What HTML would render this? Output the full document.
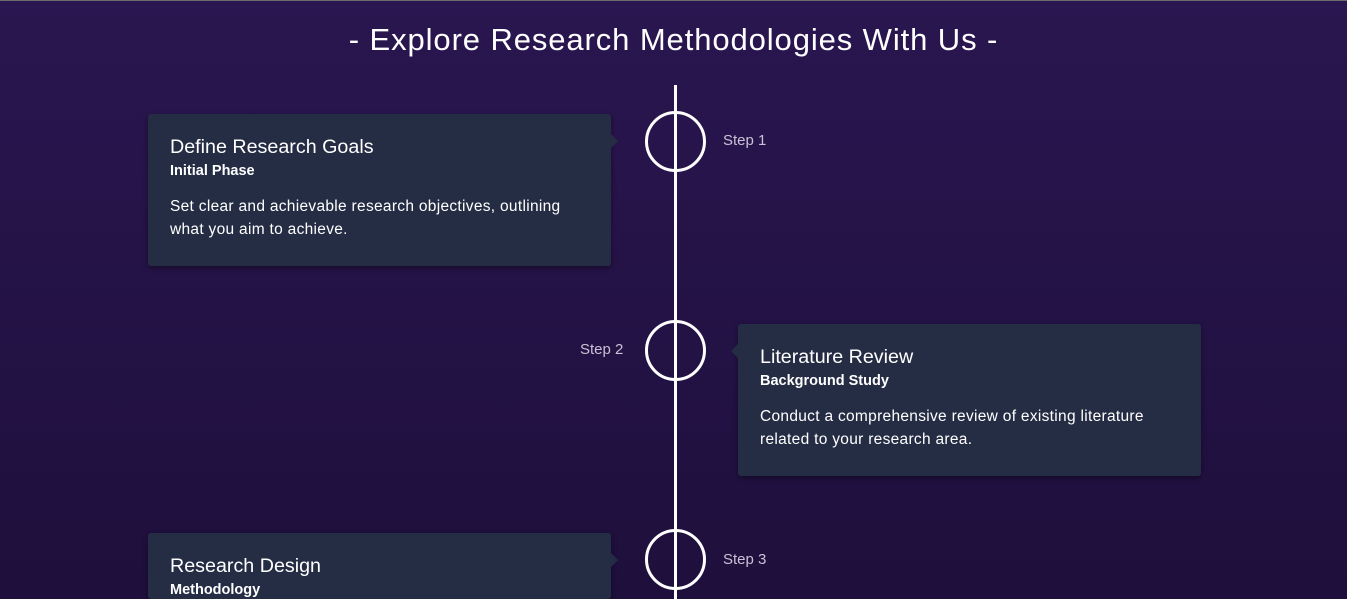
<!DOCTYPE html>
<html><head><meta charset="utf-8"><style>
*{margin:0;padding:0;box-sizing:border-box}
html,body{width:1347px;height:599px;overflow:hidden}
body{background:linear-gradient(#2a1650,#1e0f3c);font-family:"Liberation Sans",sans-serif;color:#fff;position:relative;border-top:1px solid #6b6b6b}
h1{position:absolute;top:21px;left:0;width:100%;text-align:center;font-weight:normal;font-size:31px;letter-spacing:0.9px}
.line{position:absolute;left:674px;top:84px;width:3px;height:514px;background:#fff}
.c{position:absolute;left:645px;width:61px;height:61px;border:3px solid #fff;border-radius:50%}
.s{position:absolute;font-size:15px;color:#c9c2d6}
.card{position:absolute;width:463px;height:152px;background:#252d45;border-radius:3px;box-shadow:0 2px 6px rgba(0,0,0,.4);padding:22px 22px;overflow:visible}
.card h2{font-weight:normal;font-size:19.7px;margin-bottom:4px}
.card h3{font-weight:bold;font-size:14.5px;margin-bottom:16px}
.card p{font-size:15.5px;line-height:23px;width:430px;letter-spacing:0.3px}
.card.l:after{content:"";position:absolute;right:-7px;top:20px;border:7px solid transparent;border-right:0;border-left-color:#252d45}
.card.r:before{content:"";position:absolute;left:-7px;top:20px;border:7px solid transparent;border-left:0;border-right-color:#252d45}
</style></head><body>
<h1>- Explore Research Methodologies With Us -</h1>
<div class="line"></div>
<div class="c" style="top:110px"></div>
<div class="c" style="top:319px"></div>
<div class="c" style="top:528px"></div>
<div class="s" style="left:723px;top:131px">Step 1</div>
<div class="s" style="left:580px;top:340px">Step 2</div>
<div class="s" style="left:723px;top:550px">Step 3</div>
<div class="card l" style="left:148px;top:113px"><h2>Define Research Goals</h2><h3>Initial Phase</h3><p>Set clear and achievable research objectives, outlining<br>what you aim to achieve.</p></div>
<div class="card r" style="left:738px;top:323px"><h2>Literature Review</h2><h3>Background Study</h3><p>Conduct a comprehensive review of existing literature<br>related to your research area.</p></div>
<div class="card l" style="left:148px;top:532px;height:66px"><h2>Research Design</h2><h3 style="margin:0">Methodology</h3></div>
</body></html>
